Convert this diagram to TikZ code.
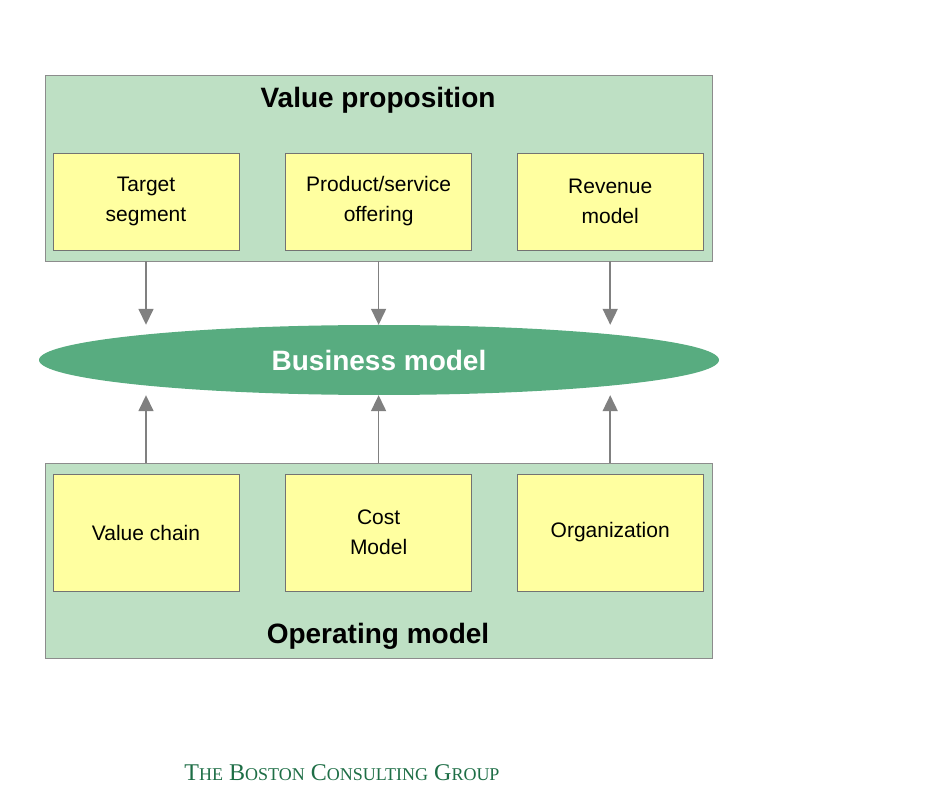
\documentclass[tikz,border=0pt]{standalone}
\usepackage{fontspec}
\setmainfont{Liberation Sans}
\newfontfamily\bcgfont{Liberation Serif}
\usetikzlibrary{positioning,shapes.geometric,arrows.meta}
\definecolor{panel}{RGB}{190,224,196}
\definecolor{note}{RGB}{255,255,160}
\definecolor{bmgreen}{RGB}{88,172,128}
\definecolor{bcggreen}{RGB}{30,110,70}

\begin{document}
\begin{tikzpicture}[x=1pt,y=-1pt,
  every node/.style={align=center,font=\fontsize{21}{30}\selectfont},%
  pn/.style={fill=panel,draw=black!45,line width=0.8pt,inner sep=0pt},%
  bx/.style={fill=note,draw=black!55,line width=0.6pt,minimum width=186pt,minimum height=97pt},%
  tt/.style={font=\fontsize{28}{30}\selectfont\bfseries},%
  e/.style={-{Triangle[length=16pt,width=15pt]},draw=black!50,line width=1.6pt,fill=black!50},%
  ]
  \useasboundingbox (0,0) rectangle (938,786);
  \node (vp) [pn,minimum width=667pt,minimum height=186pt] at (378.5,168) {};
  \node (om) [pn,minimum width=667pt,minimum height=195pt] at (378.5,560.5) {};

  \node (vptitle) [tt] at (378,100) {Value proposition};
  \node (omtitle) [tt] at (378,636) {Operating model};

  \node (tgt) [bx] at (146,201.5) {Target\\segment};
  \node (off) [bx,right=46pt of tgt] {Product/service\\offering};
  \node (rev) [bx,right=45pt of off] {Revenue\\model};

  \node (vc) [bx,minimum height=117pt] at (146,532.5) {Value chain};
  \node (cost) [bx,minimum height=117pt,right=46pt of vc] {Cost\\Model};
  \node (org) [bx,minimum height=117pt,right=45pt of cost] {Organization};

  \node (bm) [ellipse,fill=bmgreen,minimum width=680pt,minimum height=70pt,
    text=white,tt] at (379,360) {Business model};

  \foreach \n in {tgt,off,rev}
    \draw [e] (vp.south -| \n) -- (bm.north -| \n);
  \foreach \n in {vc,cost,org}
    \draw [e] (om.north -| \n) -- (bm.south -| \n);

  \node (bcg) [text=bcggreen,font=\bcgfont\fontsize{24}{26}\selectfont] at (342,773)
    {T{\fontsize{18}{20}\selectfont HE} B{\fontsize{18}{20}\selectfont OSTON} C{\fontsize{18}{20}\selectfont ONSULTING} G{\fontsize{18}{20}\selectfont ROUP}};
\end{tikzpicture}
\end{document}
